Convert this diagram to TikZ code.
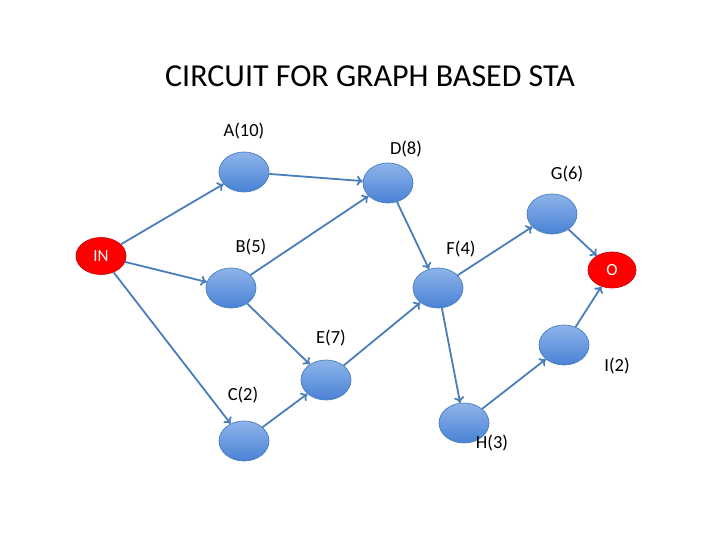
\documentclass[tikz,border=0pt]{standalone}
\usepackage{fontspec}
\setmainfont{Carlito}
\usetikzlibrary{shapes.geometric,arrows.meta}
\definecolor{edgeblue}{HTML}{4A7EBB}
\definecolor{nodetop}{HTML}{8DB4EA}
\definecolor{nodebot}{HTML}{4A82D6}
\tikzset{
  x=1pt,y=-1pt,
  bnode/.style={ellipse,minimum width=50pt,minimum height=40pt,inner sep=0pt,draw=edgeblue,line width=0.7pt,top color=nodetop,bottom color=nodebot},
  rnode/.style={ellipse,minimum width=50pt,minimum height=37pt,inner sep=0pt,draw=red!80!black,line width=0.7pt,fill=red,text=white,font=\fontsize{17}{20}\selectfont},
  lbl/.style={font=\fontsize{18.5}{22}\selectfont},
  edge/.style={draw=edgeblue,line width=1.8pt,-{To[length=6pt,width=10pt]}}
}
\begin{document}
\begin{tikzpicture}
\useasboundingbox (0,0) rectangle (720,540);
\node[font=\fontsize{32}{38}\selectfont] (title) at (370,76) {CIRCUIT FOR GRAPH BASED STA};
\node[rnode] (IN) at (101,256) {IN};
\node[rnode,minimum width=48pt,minimum height=36pt] (O) at (612,270) {O};
\node[bnode] (A) at (244,172) {};
\node[bnode] (D) at (388,183) {};
\node[bnode] (B) at (231,288) {};
\node[bnode] (E) at (326,380) {};
\node[bnode] (C) at (244,441) {};
\node[bnode] (F) at (438,288) {};
\node[bnode] (G) at (552,214) {};
\node[bnode] (H) at (464,423) {};
\node[bnode] (I) at (564,345) {};
\node[lbl] (lA) at (244,131) {A(10)};
\node[lbl] (lD) at (406,149) {D(8)};
\node[lbl] (lB) at (251,247) {B(5)};
\node[lbl] (lE) at (331,338) {E(7)};
\node[lbl] (lC) at (243,395) {C(2)};
\node[lbl] (lF) at (461,249) {F(4)};
\node[lbl] (lG) at (567,174) {G(6)};
\node[lbl] (lH) at (492,443) {H(3)};
\node[lbl] (lI) at (617,366) {I(2)};
\foreach \a/\b in {IN/A,IN/B,IN/C,A/D,B/D,B/E,C/E,D/F,E/F,F/G,F/H,G/O,H/I,I/O}
  \draw[edge] (\a) -- (\b);
\end{tikzpicture}
\end{document}
